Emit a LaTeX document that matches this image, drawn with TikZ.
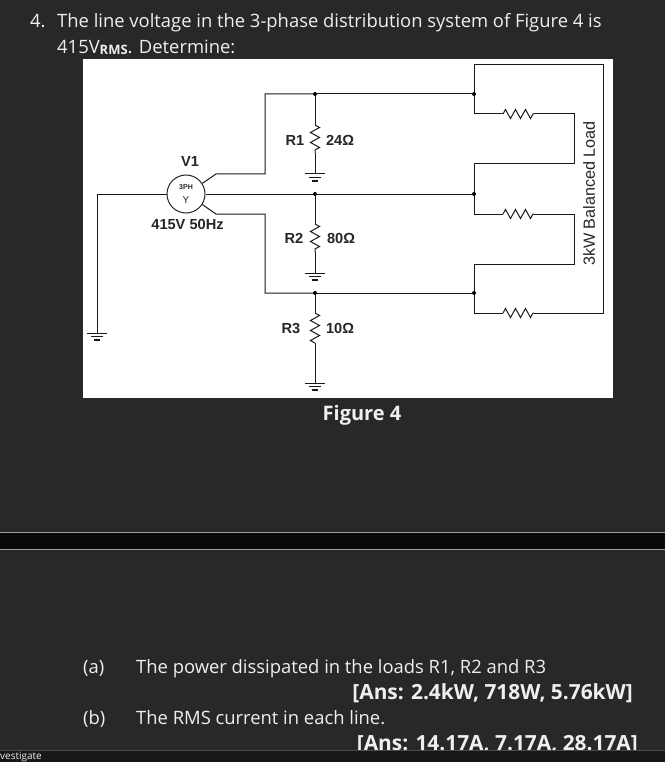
\documentclass[tikz,border=0pt]{standalone}
\usepackage{fontspec}
\setmainfont{Open Sans}
\newfontfamily\circfont{Liberation Sans}
\usetikzlibrary{decorations.pathmorphing}
\definecolor{pagebg}{HTML}{282828}
\definecolor{bandbg}{HTML}{0A0A0A}
\definecolor{footbg}{HTML}{171717}
\definecolor{rulegray}{HTML}{9A9A9A}
\definecolor{bodytext}{HTML}{EFEFEF}
\tikzstyle{wire} = [line width=1pt, draw=black!90]
\tikzstyle{res} = [wire, decorate, decoration={zigzag, amplitude=4.5pt, segment length=10pt}]
\tikzstyle{dot} = [circle, fill=black, inner sep=0pt, minimum size=4pt]
\tikzstyle{body} = [anchor=base west, inner sep=0pt, text=bodytext, font=\fontsize{18.4}{22}\selectfont]
\tikzstyle{answer} = [anchor=base east, inner sep=0pt, text=bodytext, font=\fontsize{20.9}{24}\selectfont\bfseries]
\tikzstyle{lab} = [inner sep=0pt, text=black!85, font=\circfont\fontsize{14.6}{16}\selectfont\bfseries]
\tikzset{gnd/.pic={
	\draw [wire] (-10,0) -- (10,0);
	\draw [wire] (-6,3.5) -- (6,3.5);
	\draw [wire, line width=1.2pt] (-3,7) -- (3,7);
}}
\begin{document}
\begin{tikzpicture}[x=1pt, y=-1pt]
	\useasboundingbox (0,0) rectangle (665,762);
	\fill [pagebg] (0,0) rectangle (665,762);
	\fill [white] (83,59) rectangle (613,398);
	\fill [bandbg] (0,532) rectangle (665,549);
	\draw [rulegray, line width=0.8pt] (0,532) -- (665,532);
	\draw [rulegray, line width=0.8pt] (0,549) -- (665,549);

	\node (qnum) [body] at (30,28) {4.};
	\node (q1) [body] at (57,28) {The line voltage in the 3-phase distribution system of Figure 4 is};
	\node (q2) [body] at (57,54) {415V\textbf{\fontsize{13}{13}\selectfont\raisebox{-1pt}{RMS}}. Determine:};

	\node (V1) [circle, draw=black!85, line width=1pt, inner sep=0pt, minimum size=38pt] at (186,194) {};
	\node (ph) [lab, font=\circfont\fontsize{7}{8}\selectfont\bfseries] at (186,187) {3PH};
	\node (star) [lab, font=\circfont\fontsize{10}{10}\selectfont] at (186,200) {Y};
	\node (v1name) [lab] at (190,161) {V1};
	\node (v1val) [lab] at (187.5,224) {415V 50Hz};

	\node (j1) [dot] at (315,94) {};
	\node (j2) [dot] at (315,194) {};
	\node (j3) [dot] at (315,293) {};
	\node (k1) [dot] at (474,94) {};
	\node (k2) [dot] at (474,194) {};
	\node (k3) [dot] at (474,293) {};

	\coordinate (n1) at (97,333);
	\coordinate (g1) at (315,174);
	\coordinate (g2) at (315,273);
	\coordinate (g3) at (315,383);

	% source leads and lines
	\draw [wire] (V1.west) -| (n1);
	\draw [wire] (V1.east) -- (j2);
	\draw [wire] (j2) -- (k2);
	\draw [wire] (V1.33) -- (216,174) -| (265,94) -- (j1);
	\draw [wire] (j1) -- (k1);
	\draw [wire] (V1.-33) -- (216,214) -| (265,293) -- (j3);
	\draw [wire] (j3) -- (k3);
	\pic at (n1) {gnd};

	% line resistors
	\draw [wire] (j1) -- (315,125);
	\draw [res] (315,125) -- (315,153);
	\draw [wire] (315,153) -- (g1);
	\pic at (g1) {gnd};
	\draw [wire] (j2) -- (315,224);
	\draw [res] (315,224) -- (315,252);
	\draw [wire] (315,252) -- (g2);
	\pic at (g2) {gnd};
	\draw [wire] (j3) -- (315,313);
	\draw [res] (315,313) -- (315,343);
	\draw [wire] (315,343) -- (g3);
	\pic at (g3) {gnd};

	\node (r1name) [lab] at (295,140) {R1};
	\node (r1val) [lab] at (340,140) {24Ω};
	\node (r2name) [lab] at (294,238) {R2};
	\node (r2val) [lab] at (341,238) {80Ω};
	\node (r3name) [lab] at (291,328) {R3};
	\node (r3val) [lab] at (340,328) {10Ω};

	% balanced load
	\draw [wire] (k1) |- (603,65) -- (603,313) -- (534,313);
	\draw [wire] (k1) |- (503,114);
	\draw [res] (503,114) -- (534,114);
	\draw [wire] (534,114) -- (574,114) -- (574,164) -| (k2);
	\draw [wire] (k2) |- (503,214);
	\draw [res] (503,214) -- (534,214);
	\draw [wire] (534,214) -- (574,214) -- (574,264) -| (k3);
	\draw [wire] (k3) |- (503,313);
	\draw [res] (503,313) -- (534,313);
	\node (loadlab) [lab, rotate=90, font=\circfont\fontsize{16.2}{18}\selectfont] at (589,193.5) {3kW Balanced Load};

	\node (fig) [anchor=base, inner sep=0pt, text=bodytext, font=\fontsize{20}{24}\selectfont\bfseries] at (362,420) {Figure 4};

	\node (parta) [body] at (83,673) {(a)};
	\node (qa) [body] at (136,673) {The power dissipated in the loads R1, R2 and R3};
	\node (ansa) [answer] at (633,699) {[Ans: 2.4kW, 718W, 5.76kW]};
	\node (partb) [body] at (83,724) {(b)};
	\node (qb) [body] at (136,724) {The RMS current in each line.};
	\node (ansb) [answer] at (638,750) {[Ans: 14.17A, 7.17A, 28.17A]};

	\fill [footbg] (0,750) rectangle (665,762);
	\draw [black!70!white, line width=0.6pt] (0,750) -- (665,750);
	\node (foot) [anchor=base west, inner sep=0pt, text=bodytext, font=\fontsize{10}{12}\selectfont] at (0,759) {vestigate};
\end{tikzpicture}
\end{document}
